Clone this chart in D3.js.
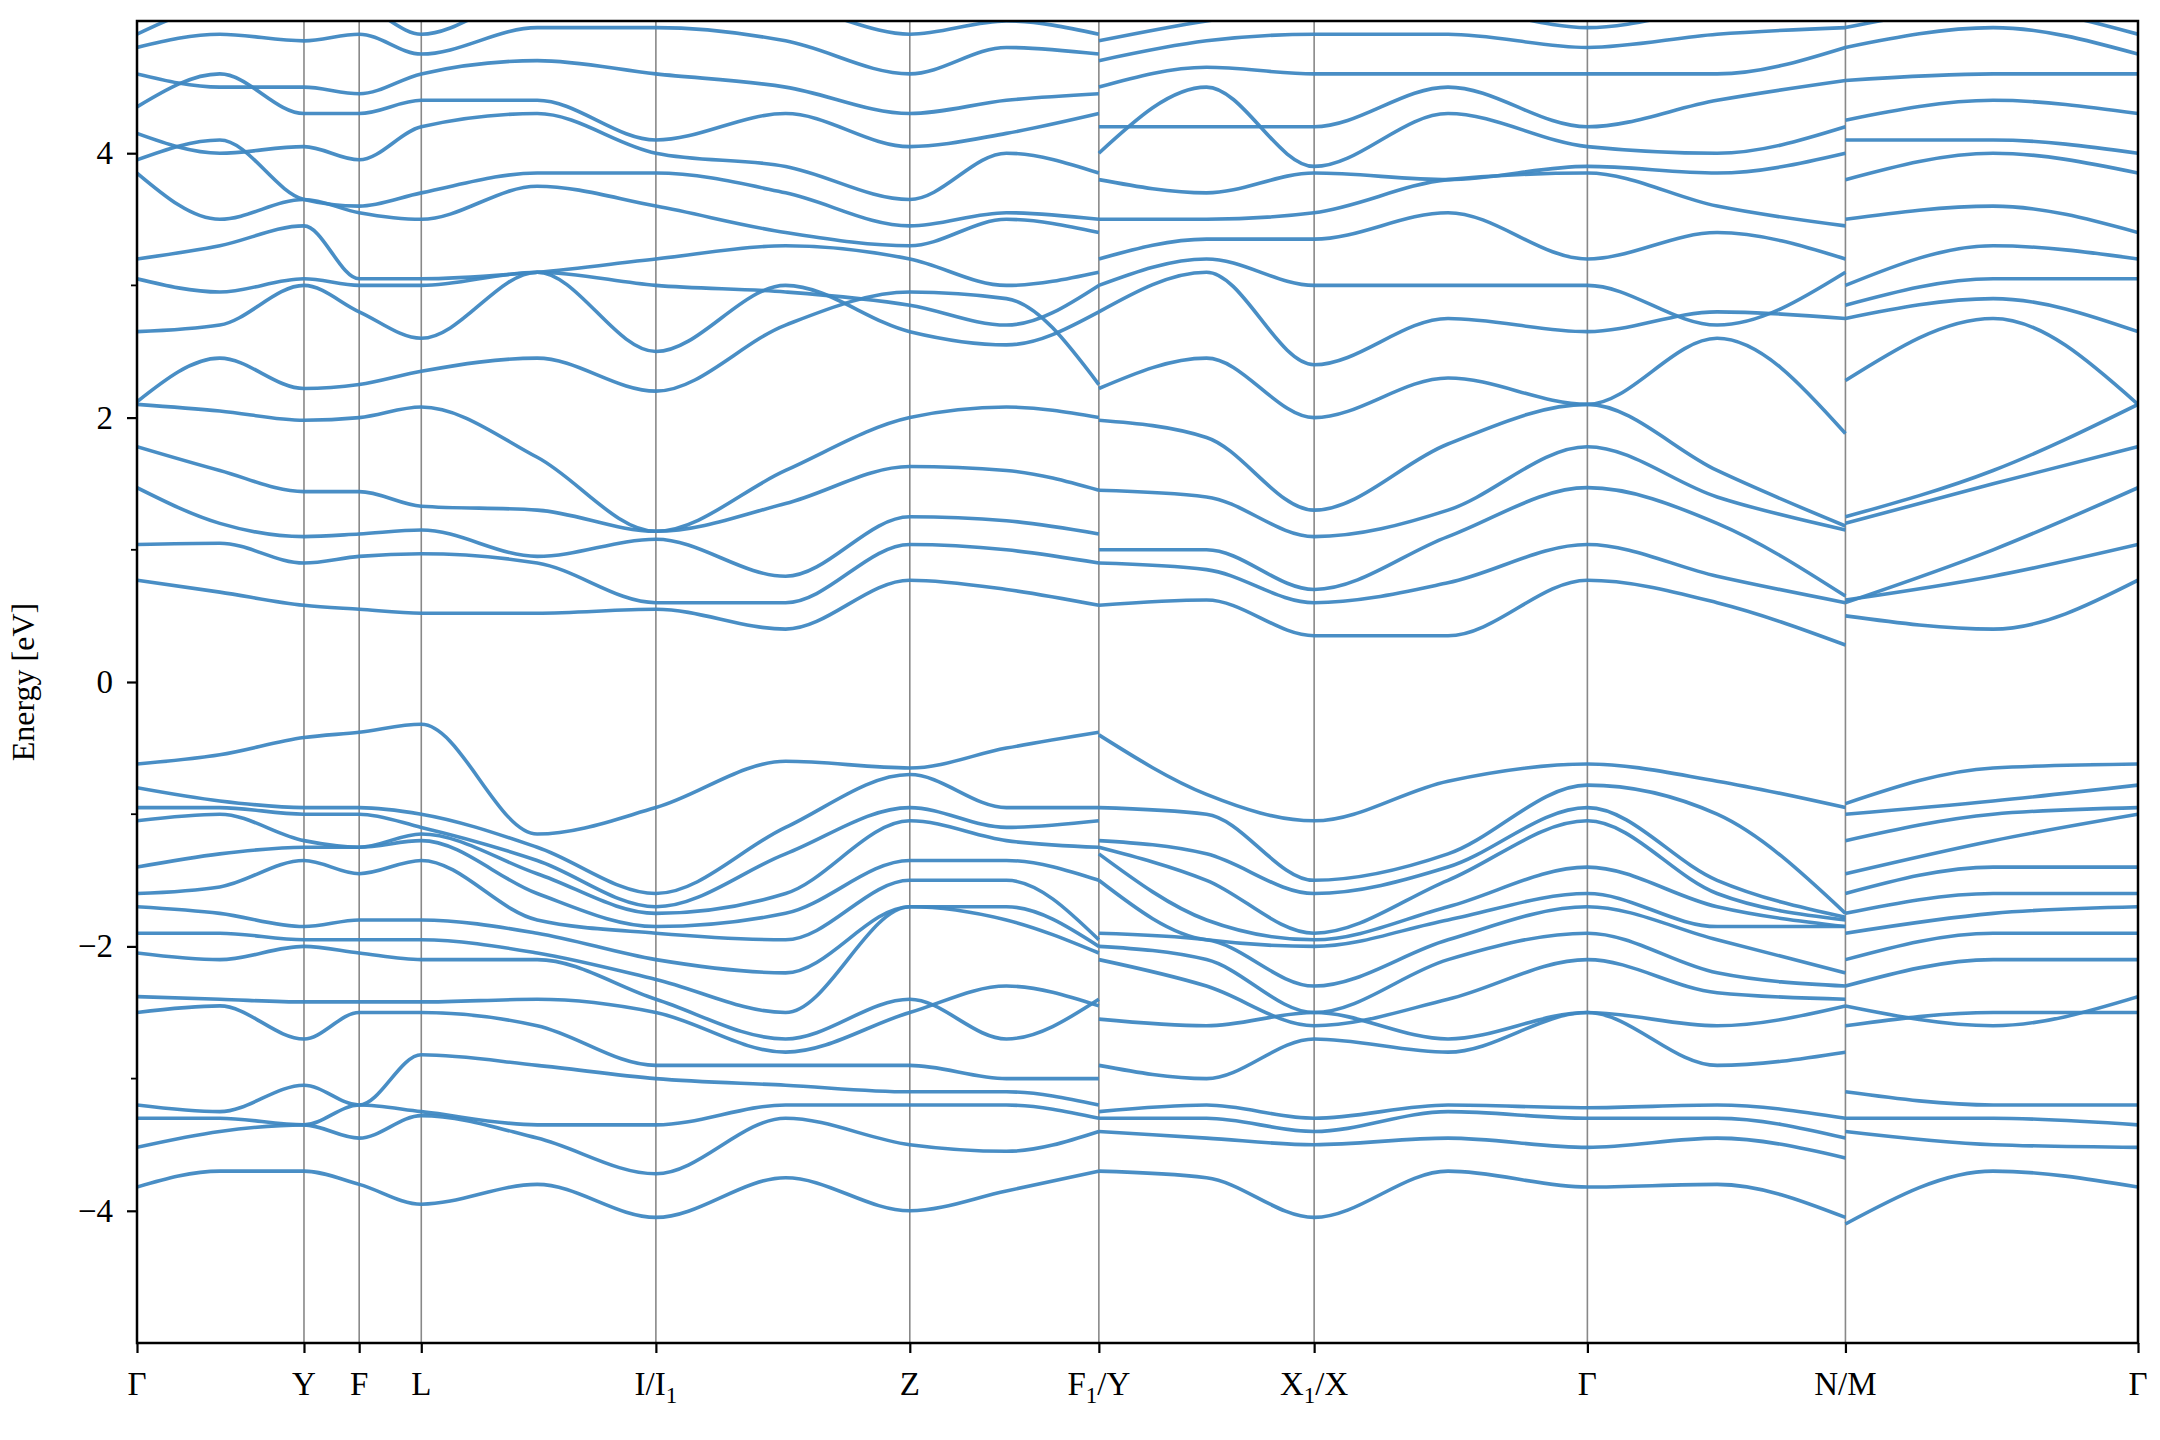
<!DOCTYPE html>
<html><head><meta charset="utf-8">
<script src="https://cdn.jsdelivr.net/npm/d3@7"></script>
<style>body{margin:0;background:#fff;}</style>
</head><body>
<div id="chart"></div>
<script>
// k-path labels and positions (path distance)
const kLabels = ['Γ','Y','F','L','I/I1','Z','F1/Y','X1/X','Γ','N/M','Γ'];
const kPos = [0,121,161,206,376,560,697,853,1051,1238,1450];
// sample grid: three continuous sections (jumps at F1/Y and N/M)
const kGrid = [0,60,121,161,206,290,376,470,560,630,697, 697,775,853,950,1051,1145,1238, 1238,1345,1450];
const sections = [[0,11],[11,18],[18,21]];
const yTicks = [-4,-2,0,2,4];
const yMinor = [-3,-1,1,3];

const bands = [
[-0.62,-0.55,-0.42,-0.38,-0.32,-1.15,-0.95,-0.6,-0.65,-0.5,-0.38, -0.40,-0.85,-1.05,-0.75,-0.62,-0.75,-0.95, -0.92,-0.65,-0.62],
[-0.8,-0.9,-0.95,-0.95,-1.0,-1.25,-1.6,-1.1,-0.7,-0.95,-0.95, -0.95,-1.0,-1.5,-1.3,-0.78,-1.0,-1.75, -1.0,-0.9,-0.78],
[-0.95,-0.95,-1.0,-1.0,-1.1,-1.35,-1.7,-1.3,-0.95,-1.1,-1.05, -1.2,-1.3,-1.6,-1.4,-0.95,-1.5,-1.78, -1.2,-1.0,-0.95],
[-1.05,-1.0,-1.2,-1.25,-1.15,-1.45,-1.75,-1.6,-1.05,-1.2,-1.25, -1.25,-1.5,-1.9,-1.5,-1.05,-1.6,-1.8, -1.45,-1.2,-1.0],
[-1.4,-1.3,-1.25,-1.25,-1.2,-1.6,-1.85,-1.75,-1.35,-1.35,-1.5, -1.3,-1.8,-1.95,-1.7,-1.4,-1.7,-1.85, -1.6,-1.4,-1.4],
[-1.6,-1.55,-1.35,-1.45,-1.35,-1.8,-1.9,-1.95,-1.5,-1.5,-1.95, -1.5,-1.95,-2.0,-1.8,-1.6,-1.85,-1.85, -1.75,-1.6,-1.6],
[-1.7,-1.75,-1.85,-1.8,-1.8,-1.9,-2.1,-2.2,-1.7,-1.7,-2.0, -1.9,-1.95,-2.3,-1.95,-1.7,-1.95,-2.2, -1.9,-1.75,-1.7],
[-1.9,-1.9,-1.95,-1.95,-1.95,-2.05,-2.25,-2.5,-1.7,-1.8,-2.05, -2.0,-2.1,-2.5,-2.1,-1.9,-2.2,-2.3, -2.1,-1.9,-1.9],
[-2.05,-2.1,-2.0,-2.05,-2.1,-2.1,-2.4,-2.7,-2.4,-2.7,-2.4, -2.1,-2.3,-2.6,-2.4,-2.1,-2.35,-2.4, -2.3,-2.1,-2.1],
[-2.38,-2.4,-2.42,-2.42,-2.42,-2.4,-2.5,-2.8,-2.5,-2.3,-2.45, -2.55,-2.6,-2.5,-2.7,-2.5,-2.6,-2.45, -2.45,-2.6,-2.38],
[-2.5,-2.45,-2.7,-2.5,-2.5,-2.6,-2.9,-2.9,-2.9,-3.0,-3.0, -2.9,-3.0,-2.7,-2.8,-2.5,-2.9,-2.8, -2.6,-2.5,-2.5],
[-3.2,-3.25,-3.05,-3.2,-2.82,-2.9,-3.0,-3.05,-3.1,-3.1,-3.2, -3.25,-3.2,-3.3,-3.2,-3.22,-3.2,-3.3, -3.1,-3.2,-3.2],
[-3.3,-3.3,-3.35,-3.2,-3.25,-3.35,-3.35,-3.2,-3.2,-3.2,-3.3, -3.3,-3.3,-3.4,-3.25,-3.3,-3.3,-3.45, -3.3,-3.3,-3.35],
[-3.52,-3.4,-3.35,-3.45,-3.28,-3.45,-3.72,-3.3,-3.5,-3.55,-3.4, -3.4,-3.45,-3.5,-3.45,-3.52,-3.45,-3.6, -3.4,-3.5,-3.52],
[-3.82,-3.7,-3.7,-3.8,-3.95,-3.8,-4.05,-3.75,-4.0,-3.85,-3.7, -3.7,-3.75,-4.05,-3.7,-3.82,-3.8,-4.05, -4.1,-3.7,-3.82],
[0.77,0.68,0.58,0.55,0.52,0.52,0.55,0.4,0.77,0.7,0.58, 0.58,0.62,0.35,0.35,0.77,0.6,0.28, 0.5,0.4,0.77],
[1.04,1.05,0.9,0.95,0.97,0.9,0.6,0.6,1.04,1.0,0.9, 0.9,0.85,0.6,0.75,1.04,0.8,0.6, 0.62,0.8,1.04],
[1.47,1.2,1.1,1.12,1.15,0.95,1.08,0.8,1.25,1.22,1.12, 1.0,1.0,0.7,1.1,1.47,1.2,0.65, 0.6,1.0,1.47],
[1.78,1.6,1.44,1.44,1.33,1.3,1.14,1.35,1.63,1.6,1.45, 1.45,1.4,1.1,1.3,1.78,1.4,1.15, 1.2,1.5,1.78],
[2.1,2.05,1.98,2.0,2.08,1.7,1.14,1.6,2.0,2.08,2.0, 1.98,1.85,1.3,1.8,2.1,1.6,1.18, 1.25,1.6,2.1],
[2.12,2.45,2.22,2.25,2.35,2.45,2.2,2.7,2.95,2.9,2.25, 2.22,2.45,2.0,2.3,2.1,2.6,1.88, 2.28,2.75,2.1],
[2.65,2.7,3.0,2.8,2.6,3.1,2.5,3.0,2.65,2.55,2.8, 2.8,3.1,2.4,2.75,2.65,2.8,2.75, 2.75,2.9,2.65],
[3.05,2.95,3.05,3.0,3.0,3.1,3.0,2.95,2.85,2.7,3.0, 3.0,3.2,3.0,3.0,3.0,2.7,3.1, 2.85,3.05,3.05],
[3.2,3.3,3.45,3.05,3.05,3.1,3.2,3.3,3.2,3.0,3.1, 3.2,3.35,3.35,3.55,3.2,3.4,3.2, 3.0,3.3,3.2],
[3.85,3.5,3.65,3.55,3.5,3.75,3.6,3.4,3.3,3.5,3.4, 3.5,3.5,3.55,3.8,3.85,3.6,3.45, 3.5,3.6,3.4],
[3.95,4.1,3.65,3.6,3.7,3.85,3.85,3.7,3.45,3.55,3.5, 3.8,3.7,3.85,3.8,3.9,3.85,4.0, 3.8,4.0,3.85],
[4.15,4.0,4.05,3.95,4.2,4.3,4.0,3.9,3.65,4.0,3.85, 4.0,4.5,3.9,4.3,4.05,4.0,4.2, 4.1,4.1,4.0],
[4.35,4.6,4.3,4.3,4.4,4.4,4.1,4.3,4.05,4.15,4.3, 4.2,4.2,4.2,4.5,4.2,4.4,4.55, 4.25,4.4,4.3],
[4.6,4.5,4.5,4.45,4.6,4.7,4.6,4.5,4.3,4.4,4.45, 4.5,4.65,4.6,4.6,4.6,4.6,4.8, 4.55,4.6,4.6],
[4.8,4.9,4.85,4.9,4.75,4.95,4.95,4.85,4.6,4.8,4.75, 4.7,4.85,4.9,4.9,4.8,4.9,4.95, 4.8,4.95,4.75],
[4.9,5.1,5.1,5.1,4.9,5.2,5.1,5.1,4.9,5.0,4.9, 4.85,5.0,5.1,5.1,4.95,5.1,5.2, 4.95,5.1,4.9]
];

const W = 2160, H = 1440;
const margin = {top: 21, right: 22, bottom: 97, left: 137};
const width = W - margin.left - margin.right;
const height = H - margin.top - margin.bottom;

const x = d3.scaleLinear().domain([0, 1450]).range([0, width]);
const y = d3.scaleLinear().domain([-5, 5]).range([height, 0]);

const svg = d3.select('#chart').append('svg')
  .attr('width', W).attr('height', H)
  .style('font-family', '"Liberation Serif", "DejaVu Serif", serif');

const g = svg.append('g').attr('transform', `translate(${margin.left},${margin.top})`);

g.append('clipPath').attr('id', 'clip')
  .append('rect').attr('width', width).attr('height', height);

// high-symmetry lines
g.selectAll('.kline').data(kPos.slice(1, -1)).enter().append('line')
  .attr('x1', d => x(d)).attr('x2', d => x(d))
  .attr('y1', 0).attr('y2', height)
  .style('stroke', '#888').style('stroke-width', 1.6);

const lineGen = d3.line()
  .x(d => x(d[0])).y(d => y(d[1]))
  .curve(d3.curveMonotoneX);

const plot = g.append('g').attr('clip-path', 'url(#clip)');
bands.forEach(b => {
  sections.forEach(([s, e]) => {
    const pts = d3.range(s, e).map(i => [kGrid[i], b[i]]);
    plot.append('path')
      .attr('d', lineGen(pts))
      .style('fill', 'none')
      .style('stroke', '#3f88c2')
      .style('stroke-width', 3.6)
      .style('opacity', 0.95);
  });
});

// frame
g.append('rect').attr('width', width).attr('height', height)
  .style('fill', 'none').style('stroke', '#000').style('stroke-width', 2.5);

// y axis
const yAxis = d3.axisLeft(y).tickValues(yTicks).tickSize(10).tickPadding(14);
const ya = g.append('g').call(yAxis);
ya.select('.domain').remove();
ya.selectAll('line').style('stroke-width', 2.2);
ya.selectAll('text').style('font-size', '33px').style('font-family', '"Liberation Serif", serif');
g.selectAll('.minor').data(yMinor).enter().append('line')
  .attr('x1', -6).attr('x2', 0).attr('y1', d => y(d)).attr('y2', d => y(d))
  .style('stroke', '#000').style('stroke-width', 1.8);

// x axis
const xa = g.append('g').attr('transform', `translate(0,${height})`)
  .call(d3.axisBottom(x).tickValues(kPos).tickSize(10).tickFormat(''));
xa.select('.domain').remove();
xa.selectAll('line').style('stroke-width', 2.2);

kLabels.forEach((lab, i) => {
  const t = g.append('text')
    .attr('x', x(kPos[i])).attr('y', height + 52)
    .attr('text-anchor', 'middle').style('font-size', '33px');
  // digits become subscripts; following text shifts back up
  const parts = lab.match(/[^0-9]+|[0-9]+/g);
  let shift = 0;
  parts.forEach(p => {
    if (/^[0-9]+$/.test(p)) {
      t.append('tspan').text(p).attr('dy', 8).style('font-size', '23px');
      shift = -8;
    } else {
      const ts = t.append('tspan').text(p);
      if (shift) ts.attr('dy', shift);
      shift = 0;
    }
  });
});

svg.append('text')
  .attr('transform', `translate(34,${margin.top + y(0)}) rotate(-90)`)
  .attr('text-anchor', 'middle')
  .style('font-size', '32px')
  .text('Energy [eV]');
</script>
</body></html>
